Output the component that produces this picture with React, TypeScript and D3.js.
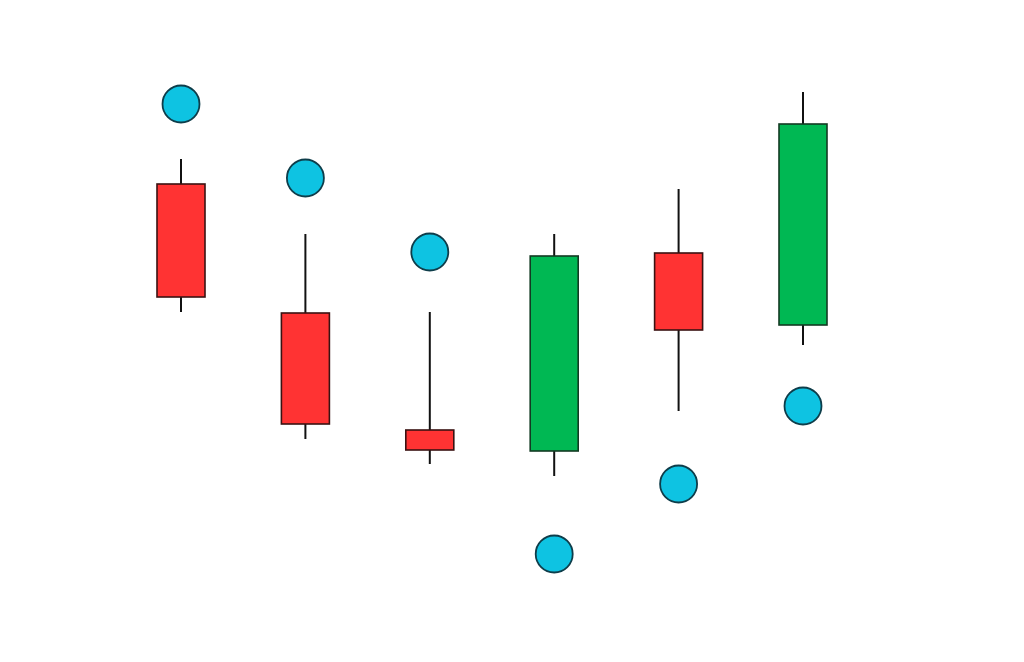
import React from "react";
import * as d3 from "d3";

const categories = ["C1", "C2", "C3", "C4", "C5", "C6"];
const openValues = [104, 71.75, 42.5, 37.25, 86.75, 68.75];
const closeValues = [75.75, 44, 37.5, 86, 67.5, 119];
const highValues = [110.25, 91.5, 72, 91.5, 102.75, 127];
const lowValues = [72, 40.25, 34, 31, 47.25, 63.75];
const dotValues = [124, 105.5, 87, 11.5, 29, 48.5];

const W = 1024;
const H = 662;

export default function App() {
  const x = d3.scalePoint<string>().domain(categories).range([181, 803]);
  const y = d3.scaleLinear().domain([0, 150]).range([600, 0]);
  const boxW = 48;

  return (
    <svg
      width={W}
      height={H}
      style={{ position: "absolute", left: 0, top: 0, background: "#fff" }}
    >
      <rect x={0} y={0} width={W} height={H} fill="#fff" />
      {categories.map((c, i) => {
        const cx = x(c)!;
        const o = openValues[i];
        const cl = closeValues[i];
        const up = cl > o;
        const top = y(Math.max(o, cl));
        const bot = y(Math.min(o, cl));
        return (
          <g key={c}>
            <line
              x1={cx}
              x2={cx}
              y1={y(highValues[i])}
              y2={y(lowValues[i])}
              stroke="#111"
              strokeWidth={2}
            />
            <rect
              x={cx - boxW / 2}
              y={top}
              width={boxW}
              height={bot - top}
              fill={up ? "#00B853" : "#FF3333"}
              stroke={up ? "#123a22" : "#3a1212"}
              strokeWidth={1.6}
            />
            <circle
              cx={cx}
              cy={y(dotValues[i])}
              r={18.5}
              fill="#0EC3E2"
              stroke="#0E3D4A"
              strokeWidth={1.8}
            />
          </g>
        );
      })}
    </svg>
  );
}
